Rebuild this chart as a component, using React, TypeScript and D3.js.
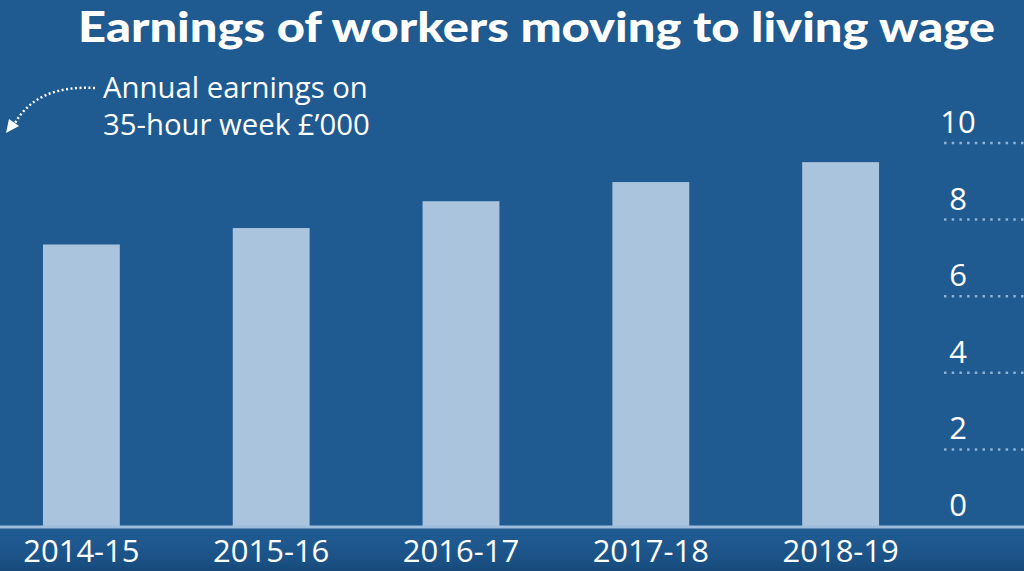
import * as d3 from "d3";
import { useEffect, useRef } from "react";

const years = ["2014-15", "2015-16", "2016-17", "2017-18", "2018-19"];
const earnings = [7.35, 7.78, 8.48, 8.98, 9.5];
const yTicks = [0, 2, 4, 6, 8, 10];

const W = 1024;
const H = 571;
const BG = "#1f5a91";
const BAR = "#a9c4dc";
const FONT = "'Open Sans'";

export default function App() {
  const svgRef = useRef<SVGSVGElement | null>(null);

  useEffect(() => {
    const svg = d3.select(svgRef.current);
    svg.selectAll("*").remove();

    const x = d3
      .scaleBand()
      .domain(years)
      .range([-14, 936])
      .paddingInner(0.595)
      .paddingOuter(0.3);

    const y = d3.scaleLinear().domain([0, 10]).range([526, 143]);

    svg.append("rect").attr("width", W).attr("height", H).attr("fill", BG);

    // bottom shade
    const grad = svg
      .append("defs")
      .append("linearGradient")
      .attr("id", "shade")
      .attr("x1", 0)
      .attr("y1", 0)
      .attr("x2", 0)
      .attr("y2", 1);
    grad.append("stop").attr("offset", "0%").attr("stop-color", BG).attr("stop-opacity", 0);
    grad.append("stop").attr("offset", "100%").attr("stop-color", "#123f6c").attr("stop-opacity", 0.6);
    svg.append("rect").attr("x", 0).attr("y", 528).attr("width", W).attr("height", 43).attr("fill", "url(#shade)");

    // title
    svg
      .append("text")
      .attr("x", 78)
      .attr("y", 42)
      .attr("fill", "#fff")
      .attr("font-family", "Lato")
      .attr("font-weight", 900)
      .attr("font-size", 42)
      .attr("textLength", 917)
      .attr("lengthAdjust", "spacingAndGlyphs")
      .text("Earnings of workers moving to living wage");

    // gridlines (right side only)
    svg
      .append("g")
      .selectAll("line")
      .data(yTicks.filter((t) => t > 0))
      .join("line")
      .attr("x1", 944)
      .attr("x2", W)
      .attr("y1", (d) => y(d))
      .attr("y2", (d) => y(d))
      .attr("stroke", "#8fb2d4")
      .attr("stroke-width", 2.5)
      .attr("stroke-dasharray", "2.5 5.2");

    svg
      .append("g")
      .selectAll("text")
      .data(yTicks)
      .join("text")
      .attr("x", 958)
      .attr("y", (d) => y(d) - 10)
      .attr("text-anchor", "middle")
      .attr("fill", "#fff")
      .attr("font-family", FONT)
      .attr("font-size", 31)
      .text((d) => d);

    // bars
    svg
      .append("g")
      .selectAll("rect")
      .data(years)
      .join("rect")
      .attr("x", (d) => x(d)!)
      .attr("width", x.bandwidth())
      .attr("y", (_, i) => y(earnings[i]))
      .attr("height", (_, i) => y(0) - y(earnings[i]))
      .attr("fill", BAR);

    // baseline
    svg
      .append("line")
      .attr("x1", 0)
      .attr("x2", W)
      .attr("y1", y(0) + 1)
      .attr("y2", y(0) + 1)
      .attr("stroke", "#9dbddb")
      .attr("stroke-width", 3);

    // x labels
    svg
      .append("g")
      .selectAll("text")
      .data(years)
      .join("text")
      .attr("x", (d) => x(d)! + x.bandwidth() / 2)
      .attr("y", 562)
      .attr("text-anchor", "middle")
      .attr("fill", "#fff")
      .attr("font-family", FONT)
      .attr("font-size", 31)
      .text((d) => d);

    // annotation
    const note = svg
      .append("text")
      .attr("fill", "#fff")
      .attr("font-family", FONT)
      .attr("font-size", 29.3);
    note.append("tspan").attr("x", 103).attr("y", 98).text("Annual earnings on");
    note.append("tspan").attr("x", 103).attr("y", 135).text("35-hour week £’000");

    svg
      .append("path")
      .attr("d", "M95,88 C60,86 30,95 14,125")
      .attr("fill", "none")
      .attr("stroke", "#fff")
      .attr("stroke-width", 2.5)
      .attr("stroke-dasharray", "2 2.5");
    svg
      .append("path")
      .attr("d", "M6,133 L9,119 L19,126 Z")
      .attr("fill", "#fff");
  }, []);

  return (
    <svg
      ref={svgRef}
      width={W}
      height={H}
      style={{ position: "absolute", left: 0, top: 0 }}
    />
  );
}
